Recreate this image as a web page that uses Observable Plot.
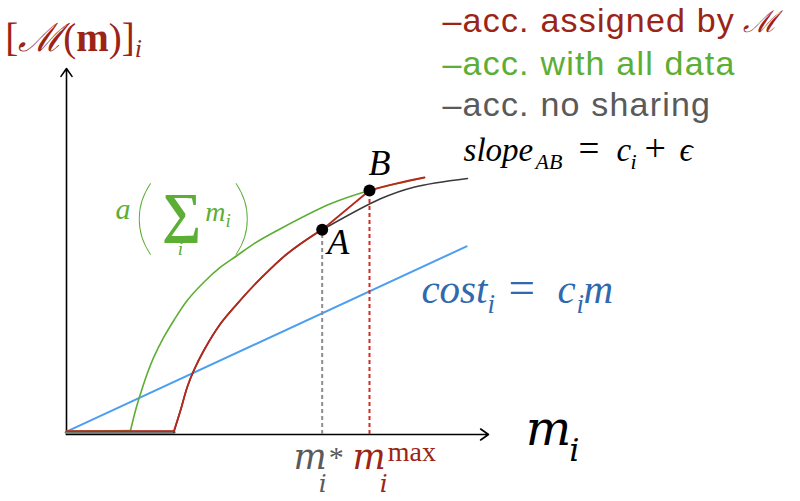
<!DOCTYPE html>
<html>
<head>
<meta charset="utf-8">
<script src="https://cdn.jsdelivr.net/npm/d3@7"></script>
<script src="https://cdn.jsdelivr.net/npm/@observablehq/plot@0.6"></script>
<style>
  html, body { margin: 0; padding: 0; background: #fff; }
  #chart { width: 800px; height: 501px; overflow: hidden; }
</style>
</head>
<body>
<div id="chart"></div>
<script>
// ---------- data (conceptual units: x 0..100 along m_i, y 0..100 accuracy) ----------
const greenX    = [0, 15.17, 16.35, 17.54, 19.12, 20.69, 23.06, 25.43, 28.60, 32.54, 36.49, 40.45, 44.38, 49.93, 62.56, 71.80, 84.83];
const greenY    = [0.82, 1.09, 6.56, 11.12, 16.58, 21.12, 26.58, 31.15, 36.61, 41.61, 45.71, 48.91, 52.10, 55.74, 63.03, 66.67, 70.22];
const noShareX  = [0, 25.43, 27.01, 28.60, 30.17, 32.54, 36.49, 40.45, 44.38, 48.34, 52.30, 59.00, 60.59, 74.41, 82.30, 95.02];
const noShareY  = [0.6, 0.6, 6.56, 12.92, 17.49, 22.95, 30.25, 35.71, 40.71, 45.27, 49.37, 54.84, 55.93, 64.40, 67.57, 69.95];
const assignedX = [0, 25.43, 27.01, 28.60, 30.17, 32.54, 36.49, 40.45, 44.38, 48.34, 52.30, 59.00, 60.59, 71.80, 78.30, 84.83];
const assignedY = [0.9, 0.9, 6.56, 12.92, 17.49, 22.95, 30.25, 35.71, 40.71, 45.27, 49.37, 54.84, 55.93, 66.67, 68.60, 70.22];
const costX     = [0, 94.8];
const costY     = [0.8, 51.4];
const pointLabels = ["A", "B"];
const pointX      = [60.59, 71.80];
const pointY      = [55.93, 66.67];
const axisMax     = [100, 100];

const zip = (xs, ys) => xs.map((x, i) => ({x, y: ys[i]}));
const green = zip(greenX, greenY);
const noShare = zip(noShareX, noShareY);
const assigned = zip(assignedX, assignedY);
const cost = zip(costX, costY);
const points = pointLabels.map((label, i) => ({label, x: pointX[i], y: pointY[i]}));
const iA = assignedX.indexOf(pointX[0]);
const iB = assignedX.indexOf(pointX[1]);

const SERIF = "Liberation Serif, Times New Roman, serif";
const DSERIF = "DejaVu Serif, serif";
const SANS = "Liberation Sans, Arial, Helvetica, sans-serif";
const DARKRED = "#9b2416", GREEN = "#5cae35", GRAY = "#5a5a5a", BLUE = "#3069ad";
const CURVE = "catmull-rom";

function label(x, y, text, opts = {}) {
  return Plot.text([text], {x: () => x, y: () => y, text: d => d, textAnchor: "start",
    fontFamily: SERIF, ...opts});
}

const plot = Plot.plot({
  width: 800, height: 501,
  marginLeft: 66, marginRight: 312, marginTop: 68, marginBottom: 67,
  x: {domain: [0, axisMax[0]], axis: null},
  y: {domain: [0, axisMax[1]], axis: null},
  style: {background: "white", overflow: "visible"},
  marks: [
    // axes with open arrowheads
    Plot.arrow([{x1: 0, y1: 0, x2: 0, y2: axisMax[1]}, {x1: 0, y1: 0, x2: axisMax[0], y2: 0}],
      {x1: "x1", y1: "y1", x2: "x2", y2: "y2", stroke: "black", strokeWidth: 1.6, headLength: 9, headAngle: 70}),
    // cost line
    Plot.line(cost, {x: "x", y: "y", stroke: "#4b9ef0", strokeWidth: 2}),
    // dashed drop lines
    Plot.ruleX(points.slice(0, 1), {x: "x", y1: 0, y2: "y", stroke: "#8e8e8e", strokeWidth: 2, strokeDasharray: "4,3"}),
    Plot.ruleX(points.slice(1, 2), {x: "x", y1: 0, y2: "y", stroke: "#d42b22", strokeWidth: 2, strokeDasharray: "4,3"}),
    // no sharing (gray/black)
    Plot.line(noShare.slice(0, 2), {x: "x", y: "y", stroke: "#777", strokeWidth: 3.5}),
    Plot.line(noShare.slice(1), {x: "x", y: "y", stroke: "#3a3a3a", strokeWidth: 1.6, curve: CURVE}),
    // all data (green)
    Plot.line(green.slice(0, 2), {x: "x", y: "y", stroke: GREEN, strokeWidth: 1.6}),
    Plot.line(green.slice(1), {x: "x", y: "y", stroke: GREEN, strokeWidth: 1.6, curve: CURVE}),
    // assigned by M (red)
    Plot.line(assigned.slice(0, 2), {x: "x", y: "y", stroke: "#b8291b", strokeWidth: 1.8}),
    Plot.line(assigned.slice(1, iA + 1), {x: "x", y: "y", stroke: "#b8291b", strokeWidth: 1.8, curve: CURVE}),
    Plot.line(assigned.slice(iA, iB + 1), {x: "x", y: "y", stroke: "#b8291b", strokeWidth: 1.8}),
    Plot.line(assigned.slice(iB), {x: "x", y: "y", stroke: "#b8291b", strokeWidth: 1.8, curve: CURVE}),
    // points A, B
    Plot.dot(points, {x: "x", y: "y", r: 6, fill: "black"}),
    Plot.text(points.slice(0, 1), {x: "x", y: "y", text: "label", dx: 5, dy: 24, textAnchor: "start",
      fontFamily: SERIF, fontStyle: "italic", fontSize: 36, fill: "black"}),
    Plot.text(points.slice(1, 2), {x: "x", y: "y", text: "label", dx: -1, dy: -15, textAnchor: "start",
      fontFamily: SERIF, fontStyle: "italic", fontSize: 36, fill: "black"}),
    // title
    label(-14.5, 104.9, "[M(m)]i", {fontSize: 39, fill: DARKRED}),
    // legend
    label(89.1, 110.1, "–acc. assigned by M", {fontFamily: SANS, fontSize: 34, fill: DARKRED}),
    label(89.1, 98.09, "–acc. with all data", {fontFamily: SANS, fontSize: 34, fill: GREEN}),
    label(89.1, 86.89, "–acc. no sharing", {fontFamily: SANS, fontSize: 34, fill: GRAY}),
    label(94.1, 74.6, "slopeAB = ci + ϵ", {fontSize: 33, fontStyle: "italic", fill: "black"}),
    // cost
    label(84.1, 35.8, "costi = cim", {fontSize: 41, fontStyle: "italic", fill: BLUE}),
    // axis label and ticks
    label(108.8, -3.0, "mi", {fontFamily: DSERIF, fontSize: 48, fontStyle: "italic", fill: "black"}),
    label(53.8, -9.3, "mi*", {fontFamily: DSERIF, fontSize: 35, fontStyle: "italic", fill: GRAY}),
    label(67.8, -9.3, "mimax", {fontFamily: DSERIF, fontSize: 35, fontStyle: "italic", fill: DARKRED}),
    // green formula a(Σ_i m_i)
    label(11.6, 59.0, "a", {fontSize: 30, fontStyle: "italic", fill: GREEN}),
    label(15.9, 51.9, "(", {fontFamily: "Lato", fontWeight: 100, fontSize: 83, fill: GREEN}),
    label(22.6, 55.7, "∑", {fontSize: 55, fontWeight: "bold", fill: GREEN}),
    label(27.0, 49.0, "i", {fontSize: 19, fontStyle: "italic", fill: GREEN, textAnchor: "middle"}),
    label(32.9, 58.2, "m i", {fontSize: 28, fontStyle: "italic", fill: GREEN}),
    label(39.3, 51.9, ")", {fontFamily: "Lato", fontWeight: 100, fontSize: 83, fill: GREEN})
  ]
});

// rich text (sub/superscripts, script M) as tspans, keyed by the plain text
const rich = new Map([
  ["[M(m)]i", `[<tspan font-family="DejaVu Serif" font-style="italic">ℳ</tspan>(<tspan font-weight="bold">m</tspan>)]<tspan font-style="italic" font-size="26" dy="6">i</tspan>`],
  ["–acc. assigned by M", `–acc. assigned by<tspan dx="8" font-family="DejaVu Serif" font-style="italic" font-size="30" letter-spacing="0">ℳ</tspan>`],
  ["slopeAB = ci + ϵ", `slope<tspan x="72" font-size="22" dy="8">AB</tspan><tspan x="115" dy="-8" font-size="37" font-style="normal">=</tspan><tspan x="153">c</tspan><tspan x="167" font-size="22" dy="8">i</tspan><tspan x="181" dy="-8" font-size="38" font-style="normal">+</tspan><tspan x="216">ϵ</tspan>`],
  ["costi = cim", `cost<tspan x="66" font-size="27" dy="10">i</tspan><tspan x="87" dy="-10" font-size="47" font-style="normal">=</tspan><tspan x="136">c</tspan><tspan x="155" font-size="27" dy="10">i</tspan><tspan x="162" dy="-10">m</tspan>`],
  ["mi", `m<tspan font-size="32" dy="16" dx="-2">i</tspan>`],
  ["mi*", `m<tspan font-size="25" dy="23" dx="-8">i</tspan><tspan font-family="Liberation Serif" font-style="normal" font-size="30" dy="-25" dx="2">*</tspan>`],
  ["mimax", `m<tspan font-size="25" dy="23" dx="-6">i</tspan><tspan font-family="Liberation Serif" font-style="normal" font-size="28" dy="-31">max</tspan>`],
  ["m i", `m<tspan font-size="19" dy="6">i</tspan>`]
]);
const legendTexts = new Set(["–acc. assigned by M", "–acc. with all data", "–acc. no sharing"]);
plot.querySelectorAll("text").forEach(t => {
  for (const a of ["y", "dy"]) {
    const v = t.getAttribute(a);
    if (v && v.endsWith("em")) t.setAttribute(a, "0");
  }
  const key = t.textContent;
  if (legendTexts.has(key)) t.setAttribute("letter-spacing", "1.2");
  if (rich.has(key)) t.innerHTML = rich.get(key);
});

document.getElementById("chart").appendChild(plot);
</script>
</body>
</html>
